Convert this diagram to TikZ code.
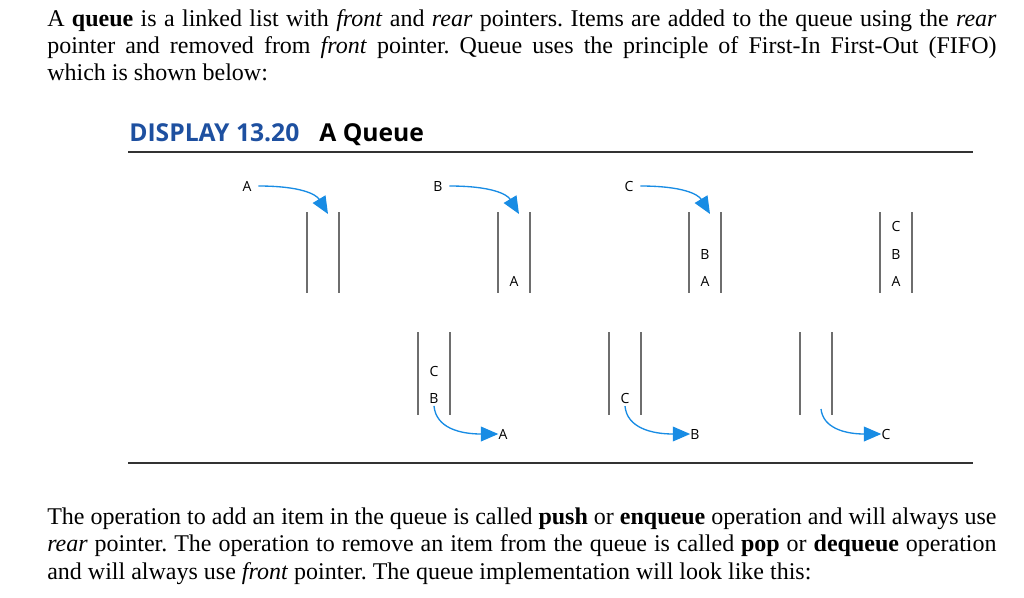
\documentclass[tikz,border=0pt]{standalone}
\usepackage{fontspec}
\setmainfont{Liberation Serif}
\newfontfamily\lab{Open Sans}
\usetikzlibrary{arrows.meta}
\definecolor{qblue}{RGB}{24,140,228}
\definecolor{dblue}{RGB}{30,80,160}
\definecolor{wall}{RGB}{110,110,110}
\frenchspacing
\tikzset{
 wallline/.style={draw=wall,line width=1.4pt},
 lbl/.style={font=\lab\fontsize{10.5}{12}\selectfont,inner sep=0pt},
 qarrow/.style={draw=qblue,line width=1pt,-{Triangle[length=13pt,width=11pt]}},
 para/.style={text width=712pt,align=justify,inner sep=0pt,anchor=north west,font=\fontsize{18}{20.3}\selectfont}
}
\begin{document}
\begin{tikzpicture}[x=0.75pt,y=-0.75pt]
\useasboundingbox (0,0) rectangle (1024,597);
\node[para] (p1) at (47,9) {A \textbf{queue} is a linked list with \textit{front} and \textit{rear} pointers. Items are added to the queue using the \textit{rear}\linebreak pointer and removed from \textit{front} pointer. Queue uses the principle of First-In First-Out (FIFO)\linebreak which is shown below:\par};
\node[anchor=west,inner sep=0pt,font=\lab\bfseries\fontsize{18.5}{20}\selectfont] (title) at (129,135) {\textcolor{dblue}{DISPLAY 13.20}\hspace{15pt}A Queue};
\draw[line width=1.5pt,black!80] (128,152) -- (973,152);
\draw[line width=1.5pt,black!80] (128,463) -- (973,463);
\foreach \x in {307,498,689,880}{
 \draw[wallline] (\x,212) -- (\x,293);
 \draw[wallline] (\x+32,212) -- (\x+32,293);
}
\foreach \x in {418,609,800}{
 \draw[wallline] (\x,332) -- (\x,415);
 \draw[wallline] (\x+32,332) -- (\x+32,415);
}
\node[lbl] (a1) at (247,186) {A};
\node[lbl] (b1) at (438,186) {B};
\node[lbl] (c1) at (629,186) {C};
\coordinate (t1) at (328,214);
\coordinate (t2) at (519,214);
\coordinate (t3) at (710,214);
\draw[qarrow] (a1.east)++(5pt,0) .. controls (300,186) and (316,194) .. (t1);
\draw[qarrow] (b1.east)++(5pt,0) .. controls (491,186) and (507,194) .. (t2);
\draw[qarrow] (c1.east)++(5pt,0) .. controls (682,186) and (698,194) .. (t3);
\node[lbl] (q2a) at (514,281) {A};
\node[lbl] (q3b) at (705,254) {B};
\node[lbl] (q3a) at (705,281) {A};
\node[lbl] (q4c) at (896,226) {C};
\node[lbl] (q4b) at (896,254) {B};
\node[lbl] (q4a) at (896,281) {A};
\node[lbl] (q5c) at (434,371) {C};
\node[lbl] (q5b) at (434,398) {B};
\node[lbl] (q6c) at (625,398) {C};
\coordinate (q7s) at (821,409);
\node[lbl] (oa) at (503,434) {A};
\node[lbl] (ob) at (695,434) {B};
\node[lbl] (oc) at (886,434) {C};
\draw[qarrow] ([yshift=-2pt]q5b.south) .. controls (436,428) and (460,434) .. (oa.west);
\draw[qarrow] ([yshift=-2pt]q6c.south) .. controls (627,428) and (652,434) .. (ob.west);
\draw[qarrow] (q7s) .. controls (823,428) and (845,434) .. (oc.west);
\node[para] (p2) at (47,508) {The operation to add an item in the queue is called \textbf{push} or \textbf{enqueue} operation and will always use\linebreak \textit{rear} pointer. The operation to remove an item from the queue is called \textbf{pop} or \textbf{dequeue} operation\linebreak and will always use \textit{front} pointer. The queue implementation will look like this:\par};
\end{tikzpicture}
\end{document}
